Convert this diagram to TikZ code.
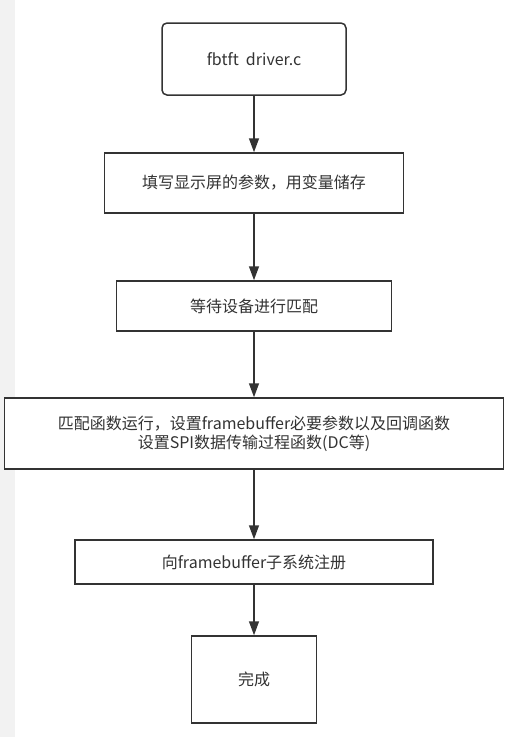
\documentclass[tikz,border=0pt]{standalone}
\usepackage{fontspec}
\setmainfont{Noto Sans CJK SC}
\usetikzlibrary{arrows.meta}
\definecolor{ink}{HTML}{333333}
\definecolor{strip}{HTML}{F2F2F2}

\begin{document}
\begin{tikzpicture}
        [x=1pt,y=-1pt,line width=1.5pt,draw=ink,
        every node/.style={shape=rectangle,draw=ink,fill=white,line width=1.5pt,
        text=ink,font=\fontsize{16pt}{19pt}\selectfont,align=center,inner sep=0pt}]
        \useasboundingbox (0,0) rectangle (509,737);
        \fill[strip] (0,0) rectangle (15,737);
        \node[rounded corners=5pt,minimum width=184pt,minimum height=72pt] (drv) at (254,59) {fbtft\ \ driver.c};
        \node[minimum width=299pt,minimum height=60pt] (param) at (254,183) {填写显示屏的参数，用变量储存};
        \node[minimum width=275pt,minimum height=50pt] (wait) at (254,306) {等待设备进行匹配};
        %%
        \node[minimum width=499pt,minimum height=71pt] (probe) at (254,433.5)
          {匹配函数运行，设置framebuffer必要参数以及回调函数\\设置SPI数据传输过程函数(DC等)};
        \node[minimum width=358pt,minimum height=44pt] (reg) at (254,562) {向framebuffer子系统注册};
        \node[minimum width=125pt,minimum height=87pt] (done) at (254,679.5) {完成};
        \path
        \foreach \startNode/\endNode in {drv/param,param/wait,wait/probe,probe/reg,reg/done}
        {
          (\startNode) edge[-{Triangle[length=14pt,width=10pt]},draw=ink,line width=1.5pt] (\endNode)
        };
\end{tikzpicture}
\end{document}
